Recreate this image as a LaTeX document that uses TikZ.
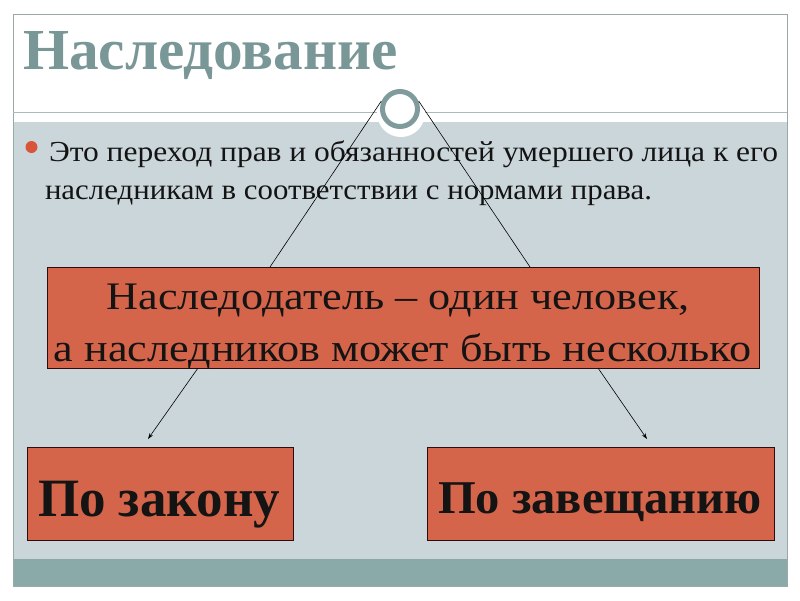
\documentclass[tikz,border=0pt]{standalone}
\usepackage{fontspec}
\usepackage{graphicx}
\setmainfont{Liberation Serif}
\usetikzlibrary{arrows.meta}
\definecolor{areagray}{HTML}{CBD6DB}
\definecolor{footgray}{HTML}{8AAAAA}
\definecolor{titlecol}{HTML}{7A9797}
\definecolor{boxfill}{HTML}{D5654A}
\definecolor{boxline}{HTML}{2E0C0C}
\definecolor{ringcol}{HTML}{7F9B9B}
\definecolor{bulletcol}{HTML}{D9553A}
\definecolor{framecol}{HTML}{9AA8A8}
\newcommand\fitto[2]{\resizebox{#1}{\height}{#2}}
\tikzset{
  txt/.style={inner sep=0pt, outer sep=0pt, anchor=base west, text=black!92},
  ctxt/.style={inner sep=0pt, outer sep=0pt, anchor=base, text=black!92},
  orangebox/.style={draw=boxline, line width=0.9pt, fill=boxfill, inner sep=0pt, outer sep=0pt},
  conn/.style={draw=black, line width=0.6pt},
  arr/.style={draw=black, line width=0.6pt, -{Stealth[length=6pt,width=4pt]}}
}
\begin{document}
\begin{tikzpicture}[x=1pt,y=-1pt]
\useasboundingbox (0,0) rectangle (800,600);
\fill[white] (0,0) rectangle (800,600);
% frame and areas
\fill[areagray] (13,122) rectangle (787,559);
\fill[footgray] (13,559) rectangle (787,586);
\draw[framecol, line width=0.8pt] (13,14) rectangle (787,586);
\draw[framecol!80, line width=1pt] (13,112) -- (787,112);
% title
\node[txt, text=titlecol] (title) at (23,69) {\fitto{375pt}{\fontsize{58}{62}\bfseries\selectfont Наследование}};
% bullet and text
\node[circle, fill=bulletcol, minimum size=12pt, inner sep=0pt] (bul) at (31.5,147) {};
\node[txt] (l1) at (49,161) {\fitto{729pt}{\fontsize{29}{34}\selectfont Это переход прав и обязанностей умершего лица к его}};
\node[txt] (l2) at (45,199) {\fitto{607pt}{\fontsize{29}{34}\selectfont наследникам в соответствии с нормами права.}};
% circle
\fill[white] (401,113) circle (24);
\node[circle, draw=ringcol, line width=5pt, fill=white, minimum size=35pt, inner sep=0pt] (circ) at (400,109) {};
% boxes
\node[orangebox, minimum width=712pt, minimum height=101pt] (mid) at (403,317.5) {};
\node[orangebox, minimum width=266pt, minimum height=93pt] (law) at (160,493.5) {};
\node[orangebox, minimum width=347pt, minimum height=93pt] (will) at (600.5,493.5) {};
% connectors
\draw[conn, shorten <=2.5pt] (circ.150) -- ([xshift=-133pt]mid.north);
\draw[conn, shorten <=2.5pt] (circ.30) -- ([xshift=127pt]mid.north);
\draw[arr] ([xshift=151pt]mid.south west) -- ([xshift=-12pt,yshift=8pt]law.north);
\draw[arr] ([xshift=-161pt]mid.south east) -- ([xshift=46.5pt,yshift=8pt]will.north);
% box texts
\node[ctxt] (m1) at (398,309) {\fitto{583pt}{\fontsize{39}{44}\selectfont Наследодатель – один человек,}};
\node[ctxt] (m2) at (402.5,361) {\fitto{697pt}{\fontsize{39}{44}\selectfont а наследников может быть несколько}};
\node[txt] (t1) at (38,516) {\fitto{242pt}{\fontsize{54}{60}\bfseries\selectfont По закону}};
\node[txt] (t2) at (438,513) {\fitto{324pt}{\fontsize{47}{52}\bfseries\selectfont По завещанию}};
\end{tikzpicture}
\end{document}
